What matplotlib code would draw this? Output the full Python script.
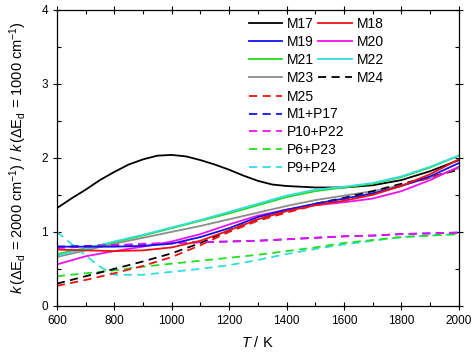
import numpy as np
import matplotlib
matplotlib.use('Agg')
import matplotlib.pyplot as plt
from matplotlib.ticker import MultipleLocator

plt.rcParams['font.family'] = ['Liberation Sans', 'DejaVu Sans']
plt.rcParams['mathtext.fontset'] = 'custom'
plt.rcParams['mathtext.rm'] = 'Liberation Sans'
plt.rcParams['mathtext.it'] = 'Liberation Sans:italic'

T = [600, 700, 800, 900, 1000, 1100, 1200, 1300, 1400, 1500, 1600, 1700, 1800, 1900, 2000]

T_m17 = [600, 650, 700, 750, 800, 850, 900, 950, 1000, 1050, 1100, 1150, 1200, 1250, 1300,
         1350, 1400, 1500, 1600, 1700, 1800, 1900, 2000]
m17 = [1.32, 1.45, 1.57, 1.70, 1.81, 1.91, 1.98, 2.03, 2.04, 2.02, 1.97, 1.91, 1.84, 1.76, 1.69,
       1.64, 1.62, 1.60, 1.60, 1.63, 1.70, 1.82, 1.97]
m18 = [0.76, 0.75, 0.74, 0.75, 0.79, 0.88, 1.02, 1.17, 1.28, 1.36, 1.42, 1.50, 1.62, 1.78, 1.98]
m19 = [0.80, 0.80, 0.80, 0.81, 0.84, 0.93, 1.05, 1.20, 1.30, 1.38, 1.45, 1.52, 1.62, 1.75, 1.93]
m20 = [0.56, 0.67, 0.74, 0.80, 0.87, 0.97, 1.10, 1.22, 1.30, 1.36, 1.40, 1.45, 1.55, 1.70, 1.88]
m21 = [0.70, 0.78, 0.86, 0.95, 1.05, 1.15, 1.25, 1.36, 1.47, 1.55, 1.60, 1.65, 1.74, 1.87, 2.03]
m22 = [0.68, 0.77, 0.87, 0.96, 1.06, 1.16, 1.27, 1.38, 1.49, 1.57, 1.61, 1.66, 1.75, 1.88, 2.03]
m23 = [0.66, 0.75, 0.84, 0.92, 1.00, 1.08, 1.17, 1.26, 1.35, 1.43, 1.49, 1.55, 1.63, 1.73, 1.86]
m24 = [0.30, 0.40, 0.50, 0.60, 0.71, 0.85, 1.02, 1.17, 1.28, 1.38, 1.46, 1.55, 1.65, 1.74, 1.84]
m25 = [0.27, 0.35, 0.44, 0.54, 0.66, 0.82, 1.00, 1.15, 1.26, 1.36, 1.44, 1.52, 1.63, 1.73, 1.86]
m1p17 = [0.80, 0.81, 0.82, 0.83, 0.85, 0.86, 0.87, 0.88, 0.90, 0.92, 0.94, 0.95, 0.97, 0.98, 0.99]
p10p22 = [0.78, 0.80, 0.82, 0.84, 0.85, 0.86, 0.87, 0.88, 0.90, 0.92, 0.94, 0.95, 0.97, 0.98, 0.99]
p6p23 = [0.40, 0.44, 0.48, 0.53, 0.57, 0.61, 0.65, 0.69, 0.74, 0.79, 0.85, 0.89, 0.93, 0.95, 0.97]

T_p9 = [600, 650, 700, 750, 800, 900, 1000, 1100, 1200, 1300, 1400, 1500, 1600, 1700, 1800, 1900, 2000]
p9p24 = [1.00, 0.84, 0.68, 0.53, 0.42, 0.42, 0.46, 0.50, 0.55, 0.62, 0.70, 0.77, 0.83, 0.88, 0.93, 0.95, 0.97]

fig = plt.figure(figsize=(4.74, 3.54), dpi=100)
ax = fig.add_axes([0.120, 0.136, 0.848, 0.836])

lw = 1.3
dash = (0, (4.5, 3))
h = {}
h['M17'], = ax.plot(T_m17, m17, color='black', lw=lw)
h['M23'], = ax.plot(T, m23, color='#8c8c8c', lw=lw)
h['M21'], = ax.plot(T, m21, color='#22dd22', lw=lw)
h['M22'], = ax.plot(T, m22, color='#33dddd', lw=lw)
h['P9+P24'], = ax.plot(T_p9, p9p24, color='#33dddd', lw=lw, ls=dash)
h['P6+P23'], = ax.plot(T, p6p23, color='#22dd22', lw=lw, ls=dash)
h['M24'], = ax.plot(T, m24, color='black', lw=lw, ls=dash)
h['M25'], = ax.plot(T, m25, color='#ee1111', lw=lw, ls=dash)
h['M1+P17'], = ax.plot(T, m1p17, color='#1111ee', lw=lw, ls=dash)
h['P10+P22'], = ax.plot(T, p10p22, color='#ee11ee', lw=lw, ls=dash)
h['M20'], = ax.plot(T, m20, color='#ee11ee', lw=lw)
h['M19'], = ax.plot(T, m19, color='#1111ee', lw=lw)
h['M18'], = ax.plot(T, m18, color='#ee1111', lw=lw)

# legend: 4 rows of pairs, then a single column
top = ['M17', 'M19', 'M21', 'M23', 'M18', 'M20', 'M22', 'M24']
bottom = ['M25', 'M1+P17', 'P10+P22', 'P6+P23', 'P9+P24']
leg_kw = dict(frameon=False, fontsize=10, handlelength=2.4, handletextpad=0.35,
              labelspacing=0.28, borderpad=0, borderaxespad=0, loc='upper left')
leg1 = ax.legend([h[k] for k in top], top, ncol=2, columnspacing=0.3,
                 bbox_to_anchor=(0.478, 0.976), **leg_kw)
ax.add_artist(leg1)
ax.legend([h[k] for k in bottom], bottom, bbox_to_anchor=(0.478, 0.731), **leg_kw)

ax.set_xlim(600, 2000)
ax.set_ylim(0, 4)
ax.xaxis.set_major_locator(MultipleLocator(200))
ax.xaxis.set_minor_locator(MultipleLocator(100))
ax.yaxis.set_major_locator(MultipleLocator(1))
ax.yaxis.set_minor_locator(MultipleLocator(0.5))
ax.tick_params(which='both', top=True, right=True, labelsize=8.5, width=0.8)
ax.tick_params(which='major', direction='inout', length=6)
ax.tick_params(which='minor', direction='in', length=3)
for s in ax.spines.values():
    s.set_linewidth(0.9)

ax.set_xlabel(r'$T$ / K', fontsize=10.5, labelpad=6)
ax.set_ylabel(r'$k\,(\Delta$E$_\mathrm{d}$ = 2000 cm$^{-1}$) / $k\,(\Delta$E$_\mathrm{d}$ = 1000 cm$^{-1}$)',
              fontsize=10.5, labelpad=9)

fig.savefig('out.png', dpi=100)
